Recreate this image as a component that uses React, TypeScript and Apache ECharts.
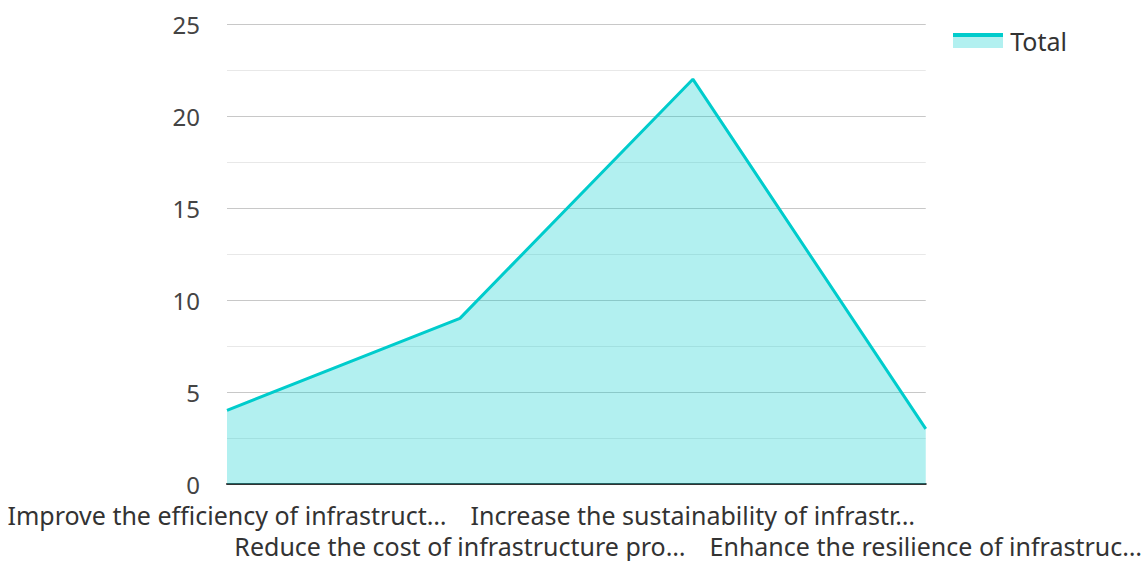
import React, { useEffect, useRef } from "react";
import * as echarts from "echarts";

const categories = [
  "Improve the efficiency of infrastruct…",
  "Reduce the cost of infrastructure pro…",
  "Increase the sustainability of infrastr…",
  "Enhance the resilience of infrastruc…",
];
const totalValues = [4, 9, 22, 3];
const seriesName = "Total";

export default function App() {
  const ref = useRef<HTMLDivElement>(null);
  useEffect(() => {
    const chart = echarts.init(ref.current!, null, { renderer: "svg" });
    const font = "'Noto Sans', sans-serif";
    chart.setOption({
      animation: false,
      textStyle: { fontFamily: font },
      legend: {
        data: [seriesName],
        right: 73,
        top: 23,
        icon: "rect",
        itemWidth: 50,
        itemHeight: 15,
        itemGap: 10,
        itemStyle: { color: "rgba(0,0,0,0)", borderWidth: 0 },
        textStyle: { fontSize: 25, color: "#333", fontFamily: font },
      },
      graphic: [
        {
          type: "rect",
          left: 953,
          top: 37,
          shape: { width: 50, height: 11 },
          style: { fill: "#00cccc", opacity: 0.3 },
        },
        {
          type: "rect",
          left: 953,
          top: 33,
          shape: { width: 50, height: 4 },
          style: { fill: "#00cccc" },
        },
      ],
      grid: { left: 227, right: 217, top: 24, bottom: 71, containLabel: false },
      xAxis: {
        type: "category",
        data: categories,
        boundaryGap: false,
        axisLine: { lineStyle: { color: "#333", width: 2 } },
        axisTick: { show: false },
        axisLabel: {
          interval: 0,
          fontSize: 25,
          color: "#333",
          margin: 15,
          lineHeight: 31,
          fontFamily: font,
          formatter: (v: string, i: number) => (i % 2 ? "\n" + v : v),
        },
      },
      yAxis: {
        type: "value",
        min: 0,
        max: 25,
        interval: 5,
        axisLine: { show: false },
        axisTick: { show: false },
        axisLabel: {
          fontSize: 24,
          color: "#444",
          margin: 27,
          lineHeight: 20,
          padding: [0, 0, 6, 0],
          fontFamily: font,
        },
        splitLine: { lineStyle: { color: "#c8c8c8", width: 1 } },
        minorTick: { show: false, splitNumber: 2 },
        minorSplitLine: { show: true, lineStyle: { color: "#e8e8e8", width: 1 } },
      },
      series: [
        {
          name: seriesName,
          type: "line",
          data: totalValues,
          showSymbol: false,
          symbol: "none",
          lineStyle: { color: "#00cccc", width: 3 },
          itemStyle: { color: "#00cccc" },
          areaStyle: { color: "#00cccc", opacity: 0.3 },
        },
      ],
    });
    return () => chart.dispose();
  }, []);
  return <div ref={ref} style={{ width: 1145, height: 561, position: "absolute", left: 0, top: 0 }} />;
}
